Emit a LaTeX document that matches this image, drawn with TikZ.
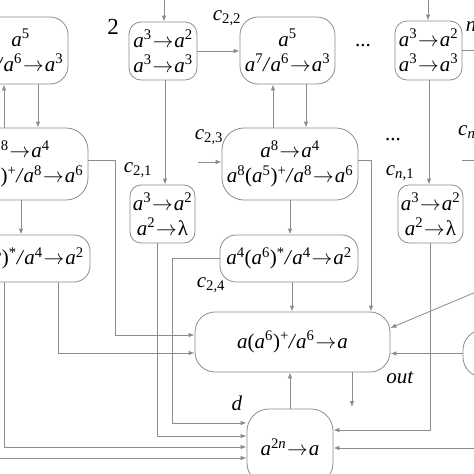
\documentclass[tikz,border=0pt]{standalone}
\usepackage{fontspec}
\setmainfont{Liberation Serif}
\usetikzlibrary{arrows.meta}
\newcommand\pa[1]{\textit{a}\textsuperscript{#1}}
\newcommand\myto{\kern1pt$\rightarrow$\kern1pt}
\newcommand\mysl{\textit{/}}
\colorlet{linecol}{black!45}
\begin{document}
\begin{tikzpicture}[x=1pt,y=-1pt,
  box/.style={draw=linecol, line width=0.8pt, align=center, inner sep=0pt,
    font=\fontsize{21}{25}\selectfont},
  lbl/.style={font=\fontsize{21}{24}\selectfont, inner sep=0pt},
  arr/.style={draw=linecol, line width=0.8pt, -{Latex[length=6pt,width=4.5pt]}},
  ln/.style={draw=linecol, line width=0.8pt}]
\useasboundingbox (0,0) rectangle (474,474);
\clip (0,0) rectangle (474,474);
% group 1
\node[box, rounded corners=18pt, minimum width=95pt, minimum height=67pt] (B1) at (20.5,50.5)
  {\pa{5}\\\pa{7}\mysl\pa{6}\myto\pa{3}};
\node[box, rounded corners=22pt, minimum width=136pt, minimum height=72pt] (B4) at (20,164)
  {\pa{8}\myto\pa{4}\\\pa{8}(\pa{5})\textsuperscript{+}\mysl\pa{8}\myto\pa{6}};
\node[box, rounded corners=16pt, minimum width=138pt, minimum height=47pt] (B7) at (21,258.5)
  {\pa{4}(\pa{5})\textsuperscript{*}\mysl\pa{4}\myto\pa{2}};
% group 2
\node[box, rounded corners=12pt, minimum width=68pt, minimum height=58pt] (B2) at (163,51)
  {\pa{3}\myto\pa{2}\\\pa{3}\myto\pa{3}};
\node[box, rounded corners=18pt, minimum width=95pt, minimum height=67pt] (B3) at (287.5,50.5)
  {\pa{5}\\\pa{7}\mysl\pa{6}\myto\pa{3}};
\node[box, rounded corners=22pt, minimum width=136pt, minimum height=72pt] (B5) at (290,164)
  {\pa{8}\myto\pa{4}\\\pa{8}(\pa{5})\textsuperscript{+}\mysl\pa{8}\myto\pa{6}};
\node[box, rounded corners=11pt, minimum width=65pt, minimum height=58pt] (C21) at (162.5,214)
  {\pa{3}\myto\pa{2}\\\pa{2}\myto λ};
\node[box, rounded corners=16pt, minimum width=138pt, minimum height=47pt] (B8) at (289,258.5)
  {\pa{4}(\pa{6})\textsuperscript{*}\mysl\pa{4}\myto\pa{2}};
% group n
\node[box, rounded corners=12pt, minimum width=67pt, minimum height=59pt] (Bn) at (428.5,50.5)
  {\pa{3}\myto\pa{2}\\\pa{3}\myto\pa{3}};
\node[box, rounded corners=11pt, minimum width=65pt, minimum height=58pt] (Cn1) at (430.5,214)
  {\pa{3}\myto\pa{2}\\\pa{2}\myto λ};
% output part
\node[box, rounded corners=20pt, minimum width=195pt, minimum height=60pt] (M) at (292.5,342)
  {\textit{a}(\pa{6})\textsuperscript{+}\mysl\pa{6}\myto\textit{a}};
\node[box, rounded corners=20pt, minimum width=100pt, minimum height=47pt] (R) at (513,353.5) {};
\node[box, rounded corners=22pt, minimum width=86pt, minimum height=76pt] (D) at (290,447)
  {\textit{a}\textsuperscript{2\textit{n}}\myto\textit{a}};
% labels
\node[lbl, font=\fontsize{23}{24}\selectfont] (l2) at (113,27) {2};
\node[lbl] (ln) at (471,27) {\textit{n}};
\node[lbl] (dots1) at (363,46) {...};
\node[lbl] (dots2) at (393,140) {...};
\node[lbl] (c22) at (227,18) {\textit{c}\textsubscript{2,2}};
\node[lbl] (c23) at (209,137) {\textit{c}\textsubscript{2,3}};
\node[lbl] (c21) at (138,170) {\textit{c}\textsubscript{2,1}};
\node[lbl] (c24) at (211,285) {\textit{c}\textsubscript{2,4}};
\node[lbl] (cn1) at (400,173) {\textit{c}\textsubscript{\textit{n},1}};
\node[lbl, anchor=west] (cn) at (458,133) {\textit{c}\textsubscript{\textit{n},2}};
\node[lbl] (out) at (400,378) {\textit{out}};
\node[lbl] (dl) at (237,403) {\textit{d}};
% free ends
\coordinate (in2) at (164,-10);
\coordinate (inN) at (428,-10);
\coordinate (c23in) at (198,162);
\coordinate (cnin) at (462,160);
\coordinate (cnin2) at (495,160);
\coordinate (outN) at (495,50);
\coordinate (dg) at (495,284);
\coordinate (inL) at (-10,458);
\coordinate (inR) at (495,448);
\coordinate (outp) at (352,407);
% group 1 connectors
\draw[arr] (B1.south -| 38,0) -- (B4.north -| 38,0);
\draw[arr] (B4.north -| 4,0) -- (B1.south -| 4,0);
\draw[arr] (B4.east |- 0,160) -- (115,160) -- (115,335) -- (M.west |- 0,335);
\draw[arr] (B4.south -| 21,0) -- (B7.north -| 21,0);
\draw[arr] (B7.south -| 58,0) -- (58,353) -- (M.west |- 0,353);
\draw[arr] (B7.south -| 4,0) -- (4,447) -- (D.west |- 0,447);
\draw[arr] (inL) -- (inL -| D.west);
% group 2 connectors
\draw[arr] (in2) -- (in2 |- B2.north);
\draw[arr] (B2.east) -- (B2.east -| B3.west);
\draw[arr] (B3.south -| 306,0) -- (B5.north -| 306,0);
\draw[arr] (B5.north -| 273,0) -- (B3.south -| 273,0);
\draw[arr] (B2.south -| 165,0) -- (C21.north -| 165,0);
\draw[arr] (c23in) -- (c23in -| B5.west);
\draw[arr] (B5.east |- 0,160) -- (371,160) -- (M.north -| 371,0);
\draw[arr] (B5.south -| 290,0) -- (B8.north -| 290,0);
\draw[arr] (B8.south -| 292,0) -- (M.north -| 292,0);
\draw[arr] (B8.west |- 0,258) -- (172,258) -- (172,423) -- (D.west |- 0,423);
\draw[arr] (C21.south -| 157,0) -- (157,436) -- (D.west |- 0,436);
% group n connectors
\draw[arr] (inN) -- (inN |- Bn.north);
\draw[arr] (Bn.south -| 429,0) -- (Cn1.north -| 429,0);
\draw[ln] (Bn.east |- 0,50) -- (outN);
\draw[arr] (cnin) -- (cnin2);
\draw[arr] (Cn1.south -| 430,0) -- (430,430) -- (D.east |- 0,430);
\draw[arr] (dg) -- (M.east |- 0,328);
\draw[arr] (R.west) -- (R.west -| M.east);
\draw[arr] (inR) -- (inR -| D.east);
% output
\draw[arr] (M.south -| 352,0) -- (outp);
\draw[arr] (D.north -| 290,0) -- (M.south -| 290,0);
\end{tikzpicture}
\end{document}
